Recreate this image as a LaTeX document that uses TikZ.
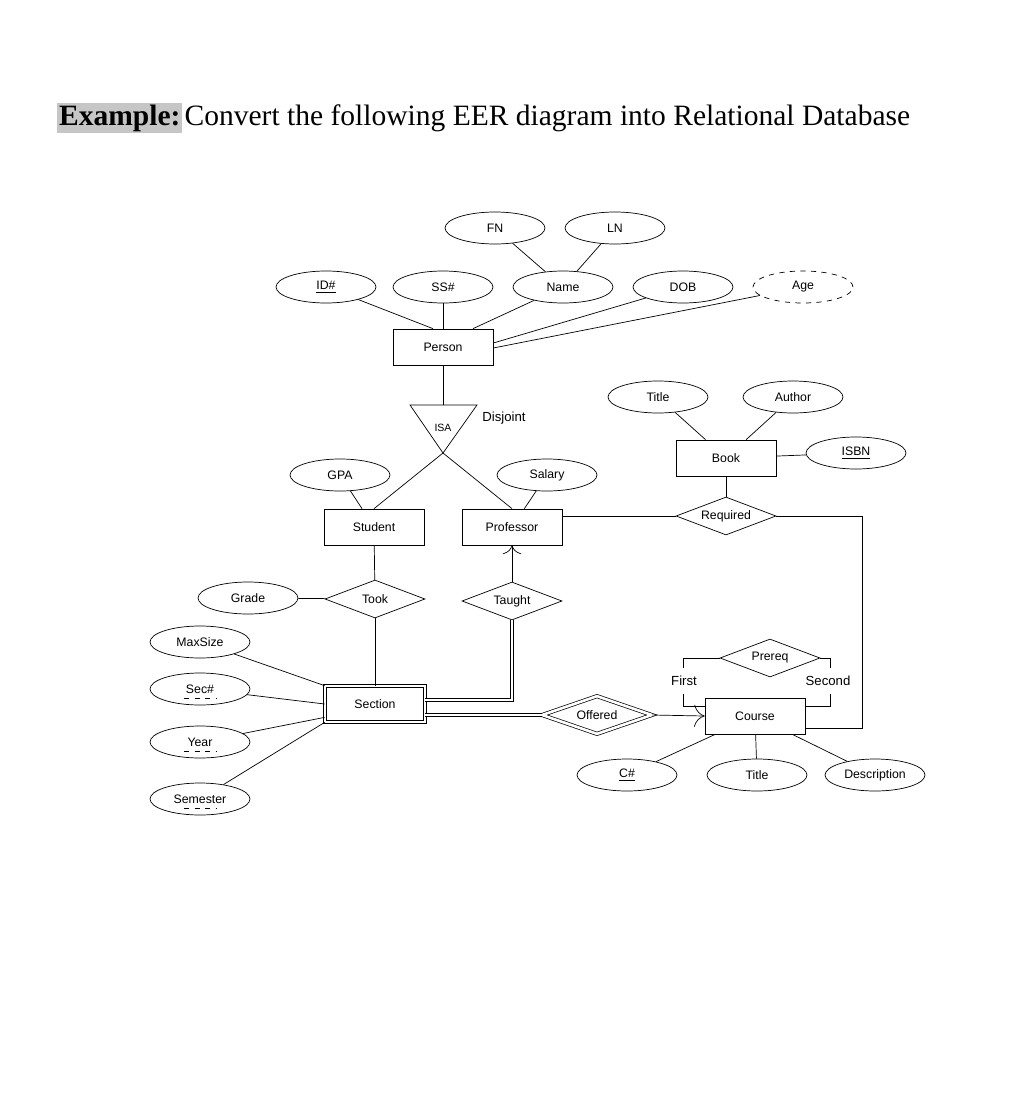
\documentclass[tikz,border=0pt]{standalone}
\usepackage{fontspec}
\setmainfont{Liberation Serif}
\newfontfamily\ersans{Liberation Sans}
\usetikzlibrary{shapes.geometric,arrows.meta}

\begin{document}
\begin{tikzpicture}[x=0.02cm,y=-0.02cm,
	attr/.style={draw,ellipse,minimum width=2cm,minimum height=0.64cm,inner sep=0pt,font=\ersans\fontsize{7}{8}\selectfont},
	ent/.style={draw,rectangle,minimum width=2cm,minimum height=0.72cm,font=\ersans\fontsize{7}{8}\selectfont},
	rel/.style={draw,diamond,aspect=2.6,minimum width=2cm,minimum height=0.76cm,inner sep=0pt,font=\ersans\fontsize{7}{8}\selectfont},
	lbl/.style={font=\ersans\fontsize{7.5}{9}\selectfont},
	dbl/.style={double,double distance=1.5pt}]
	\useasboundingbox (0,0) rectangle (1026,1102);
	% title
	\node [anchor=west,fill=gray!45,inner sep=1pt,font=\fontsize{16.8}{20}\selectfont\bfseries] (ex) at (57,118) {Example:};
	\node [anchor=west,inner sep=1pt,font=\fontsize{16.8}{20}\selectfont] (tt) at (ex.east) {Convert the following EER diagram into Relational Database};
	% person
	\node [attr] (fn) at (495,228) {FN};
	\node [attr] (ln) at (615,228) {LN};
	\node [attr] (id) at (326,287) {\underline{ID\#}};
	\node [attr] (ss) at (443,287) {SS\#};
	\node [attr] (name) at (563,287) {Name};
	\node [attr] (dob) at (683,287) {DOB};
	\node [attr,dashed] (age) at (803,287) {Age};
	\node [ent] (person) at (443,347) {Person};
	\draw (fn) -- (name);
	\draw (ln) -- (name);
	\draw (id) -- ([shift={(-10,0)}]person.north);
	\draw (ss) -- (person.north);
	\draw (name) -- ([shift={(30,0)}]person.north);
	\draw (dob) -- ([shift={(0,-4)}]person.east);
	\draw (age) -- ([shift={(0,1)}]person.east);
	% isa
	\coordinate (isal) at (410,405);
	\coordinate (isar) at (477,405);
	\coordinate (isab) at (443,453);
	\draw (isal) -- (isar) -- (isab) -- cycle;
	\node [lbl,font=\ersans\fontsize{6}{7}\selectfont] (isa) at (443,428) {ISA};
	\node [lbl] (disj) at (504,418) {Disjoint};
	\draw (person) -- (443,405);
	\node [ent] (student) at (374,527) {Student};
	\node [ent] (prof) at (512,527) {Professor};
	\node [attr] (gpa) at (340,475) {GPA};
	\node [attr] (salary) at (547,475) {Salary};
	\draw (isab) -- (student.north);
	\draw (isab) -- (prof.north);
	\draw (gpa) -- (student);
	\draw (salary) -- (prof);
	% book
	\node [attr] (btitle) at (658,397) {Title};
	\node [attr] (author) at (793,397) {Author};
	\node [attr] (isbn) at (856,453) {\underline{ISBN}};
	\node [ent] (book) at (726,458) {Book};
	\node [rel] (req) at (726,516) {Required};
	\draw (btitle) -- (book);
	\draw (author) -- (book);
	\draw (book) -- (isbn);
	\draw (book) -- (req);
	\draw (prof.east |- req) -- (req.west);
	% section
	\node [rel] (took) at (375,599) {Took};
	\node [rel] (taught) at (512,601) {Taught};
	\node [attr] (grade) at (248,598) {Grade};
	\node [ent,dbl] (section) at (375,704) {Section};
	\node [attr] (maxsize) at (200,642) {MaxSize};
	\node [attr] (secno) at (200,689) {Sec\#};
	\node [attr] (year) at (200,742) {Year};
	\node [attr] (semester) at (200,799) {Semester};
	\draw [dashed] ([shift={(-16,9)}]secno.center) -- ++(32,0);
	\draw [dashed] ([shift={(-16,9)}]year.center) -- ++(32,0);
	\draw [dashed] ([shift={(-16,9)}]semester.center) -- ++(32,0);
	\draw (student) -- (took);
	\draw (grade) -- (took);
	\draw (took) -- (section);
	\draw [-{To[length=5pt]}] (taught) -- (prof);
	\draw [dbl] (taught.south) |- ([shift={(0,-4)}]section.east);
	\draw (maxsize) -- (section.north west);
	\draw (secno) -- (section.west);
	\draw (year) -- ([shift={(0,-5)}]section.south west);
	\draw (semester) -- (section.south west);
	% course
	\node [rel,dbl,minimum width=2.2cm] (offered) at (597,715) {Offered};
	\node [ent] (course) at (755,716) {Course};
	\node [rel] (prereq) at (770,658) {Prereq};
	\node [attr] (cno) at (627,775) {\underline{C\#}};
	\node [attr] (ctitle) at (757,775) {Title};
	\node [attr] (descr) at (875,775) {Description};
	\draw [dbl] (section.east |- offered) -- (offered.west);
	\draw [-{To[length=6pt]}] (offered.east) -- (course.west);
	\coordinate (fa) at (683,658);
	\coordinate (fb) at (683,706);
	\coordinate (sa) at (830,658);
	\coordinate (sb) at (830,706);
	\draw (prereq.west) -- (fa) -- (683,668);
	\draw (683,694) -- (fb) -- (fb -| course.west);
	\node [lbl] (first) at (684,681) {First};
	\draw (prereq.east) -- (sa) -- (830,668);
	\draw (830,694) -- (sb) -- (sb -| course.east);
	\node [lbl] (second) at (828,681) {Second};
	\coordinate (rq) at (862,516);
	\coordinate (rc) at (862,728);
	\draw (req.east) -- (rq) -- (rc) -- (rc -| course.east);
	\draw (course) -- (cno);
	\draw (course) -- (ctitle);
	\draw (course) -- (descr);
\end{tikzpicture}
\end{document}
